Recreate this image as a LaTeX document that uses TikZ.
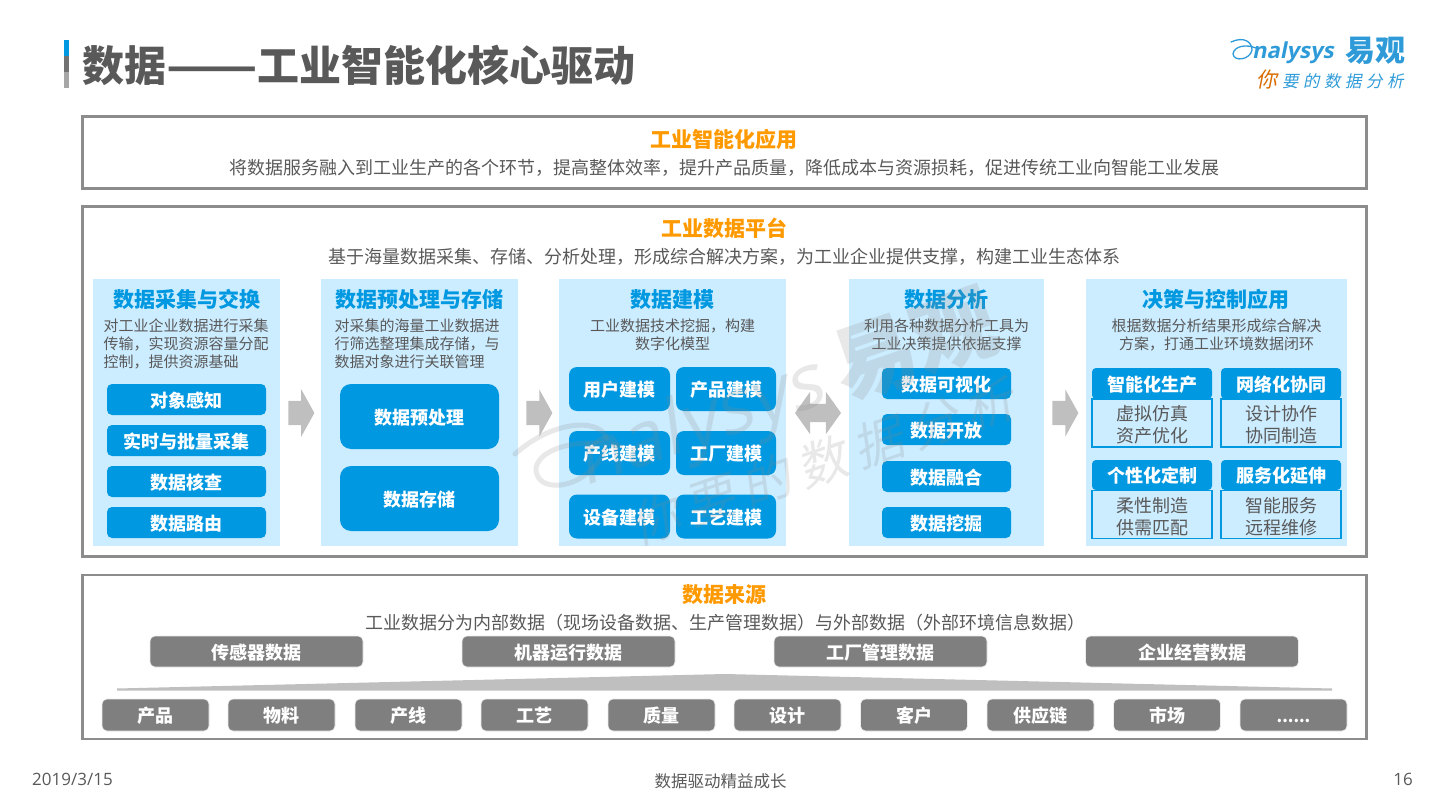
\documentclass[tikz,border=0pt]{standalone}
\usepackage{fontspec}
\usepackage{xcolor}
\usetikzlibrary{shapes.arrows}
\setmainfont{Open Sans}
\newfontfamily\cjk{Noto Sans CJK SC}
\newfontfamily\cjkslant[FakeSlant=0.2]{Noto Sans CJK SC}
\newfontfamily\logofont[FakeSlant=0.2]{Open Sans}
\definecolor{idblue}{HTML}{0098E0}
\definecolor{idpanel}{HTML}{CCECFF}
\definecolor{idorange}{HTML}{FF9900}
\definecolor{idtext}{HTML}{595959}
\definecolor{idframe}{HTML}{8C8C8C}
\definecolor{idchip}{HTML}{7F7F7F}
\definecolor{idarrow}{HTML}{BFBFBF}
\definecolor{idlogo}{HTML}{2E9BD8}
\tikzset{
  frame/.style={draw=idframe, line width=2.4pt, inner sep=0pt},
  headline/.style={text=idorange, font=\cjk\fontsize{21}{24}\selectfont\bfseries, inner sep=0pt},
  subline/.style={text=idtext, font=\cjk\fontsize{18}{22}\selectfont, inner sep=0pt},
  panel/.style={fill=idpanel, inner sep=0pt},
  paneltitle/.style={text=idblue, font=\cjk\fontsize{21}{24}\selectfont\bfseries, inner sep=0pt},
  paneltext/.style={text=idtext, font=\cjk\fontsize{15}{18}\selectfont, inner sep=0pt, align=left},
  btn/.style={fill=idblue, rounded corners=5pt, text=white, font=\cjk\fontsize{18}{22}\selectfont\bfseries, inner sep=0pt, text height=17pt, text depth=1.5pt},
  cardbody/.style={draw=idblue, line width=1.2pt, text=idtext, font=\cjk\fontsize{18}{22}\selectfont, inner sep=0pt, align=center, text height=41pt, text depth=2pt},
  cardhead/.style={fill=idblue, rounded corners=4pt, text=white, font=\cjk\fontsize{18}{22}\selectfont\bfseries, inner sep=0pt, text height=17pt, text depth=1.5pt},
  chip/.style={fill=idchip, draw=white!85!idchip, line width=0.6pt, rounded corners=5pt, text=white, font=\cjk\fontsize{18}{22}\selectfont\bfseries, inner sep=0pt, text height=17pt, text depth=1.5pt},
  flowarrow/.style={single arrow, fill=idarrow, inner sep=0pt, text height=24pt, text depth=0pt, minimum height=26pt, minimum width=47pt,
    single arrow head extend=11.5pt, single arrow tip angle=122},
  footer/.style={text=idtext, font=\cjk\fontsize{16.5}{20}\selectfont, inner sep=0pt},
  watermark/.style={text=black!45, opacity=0.2, rotate=19, inner sep=0pt}
}
\begin{document}
\begin{tikzpicture}[x=1pt,y=-1pt]
  \useasboundingbox (0,0) rectangle (1440,810);
  % title
  \fill[idblue] (64,40) rectangle (69,56);
  \fill[idchip!90!black] (64,56) rectangle (69,72);
  \fill[black!35] (64,72) rectangle (69,88);
  \node[inner sep=0pt, anchor=west, text=idtext, font=\cjk\fontsize{42}{46}\selectfont\bfseries] (title) at (82,65)
    {数据\scalebox{1.27}[1]{——}工业智能化核心驱动};
  % logo
  \draw[idlogo, line width=1.3pt, line cap=round] (1231,42) .. controls (1244,36) and (1252,42) .. (1252,50)
    .. controls (1250,60) and (1234,62) .. (1233,54) .. controls (1234,46) and (1246,44) .. (1256,48);
  \node[inner sep=0pt, anchor=west, text=idlogo, font=\logofont\fontsize{22}{24}\selectfont\bfseries] (logoname) at (1252,53) {nalysys};
  \node[inner sep=0pt, anchor=west, text=idlogo, font=\cjk\fontsize{30}{32}\selectfont\bfseries] (logocn) at (1345,51) {易观};
  \node[inner sep=0pt, anchor=west, text=orange!85!black, font=\cjkslant\fontsize{21}{22}\selectfont] (logoni) at (1256,80) {你};
  \node[inner sep=0pt, anchor=west, text=idlogo, font=\cjkslant\fontsize{16.5}{18}\selectfont] (logosub) at (1282,81) {要\hspace{4.5pt}的\hspace{4.5pt}数\hspace{4.5pt}据\hspace{4.5pt}分\hspace{4.5pt}析};

  % top layer
  \node[frame, minimum width=1284pt, minimum height=72pt] (appframe) at (724.5,152.5) {};
  \node[headline] (apptitle) at (724,139) {工业智能化应用};
  \node[subline] (appline) at (724.5,168) {将数据服务融入到工业生产的各个环节，提高整体效率，提升产品质量，降低成本与资源损耗，促进传统工业向智能工业发展};

  % platform layer
  \node[frame, minimum width=1284pt, minimum height=350pt] (platframe) at (724.5,381.5) {};
  \node[headline] (plattitle) at (724,228) {工业数据平台};
  \node[subline] (platline) at (724.5,257) {基于海量数据采集、存储、分析处理，形成综合解决方案，为工业企业提供支撑，构建工业生态体系};

  % panels
  \node[panel, minimum width=187pt, minimum height=267pt] (collect) at (186.5,412.5) {};
  \node[panel, minimum width=197pt, minimum height=267pt] (prepare) at (419.5,412.5) {};
  \node[panel, minimum width=227pt, minimum height=267pt] (model) at (672.5,412.5) {};
  \node[panel, minimum width=195pt, minimum height=267pt] (analyse) at (946.5,412.5) {};
  \node[panel, minimum width=261pt, minimum height=267pt] (decide) at (1216.5,412.5) {};

  % collect
  \node[paneltitle] (collecttitle) at (186.5,299.5) {数据采集与交换};
  \node[paneltext] (collecttext) at (186,344) {对工业企业数据进行采集\\传输，实现资源容量分配\\控制，提供资源基础\hphantom{进行}};
  \node[btn, minimum width=159pt, minimum height=31pt] (sense) at (186.5,399.5) {对象感知};
  \node[btn, minimum width=159pt, minimum height=31pt] (batch) at (186.5,440.5) {实时与批量采集};
  \node[btn, minimum width=159pt, minimum height=31pt] (check) at (186.5,481.5) {数据核查};
  \node[btn, minimum width=159pt, minimum height=31pt] (route) at (186.5,522.5) {数据路由};

  % prepare
  \node[paneltitle] (preparetitle) at (419.5,299.5) {数据预处理与存储};
  \node[paneltext] (preparetext) at (417,344) {对采集的海量工业数据进\\行筛选整理集成存储，与\\数据对象进行关联管理\hphantom{与}};
  \node[btn, rounded corners=11pt, minimum width=159pt, minimum height=65pt] (clean) at (419.5,416.5) {数据预处理};
  \node[btn, rounded corners=11pt, minimum width=159pt, minimum height=65pt] (store) at (419.5,498.5) {数据存储};

  % model
  \node[paneltitle] (modeltitle) at (672.5,299.5) {数据建模};
  \node[paneltext, align=center] (modeltext) at (672.5,335) {工业数据技术挖掘，构建\\数字化模型};
  \node[btn, rounded corners=8pt, minimum width=101pt, minimum height=44pt] (musers) at (619.5,389) {用户建模};
  \node[btn, rounded corners=8pt, minimum width=100pt, minimum height=44pt] (mprod) at (726,389) {产品建模};
  \node[btn, rounded corners=8pt, minimum width=101pt, minimum height=44pt] (mline) at (619.5,453) {产线建模};
  \node[btn, rounded corners=8pt, minimum width=100pt, minimum height=44pt] (mfact) at (726,453) {工厂建模};
  \node[btn, rounded corners=8pt, minimum width=101pt, minimum height=44pt] (mdev) at (619.5,516.5) {设备建模};
  \node[btn, rounded corners=8pt, minimum width=100pt, minimum height=44pt] (mproc) at (726,516.5) {工艺建模};

  % analyse
  \node[paneltitle] (analysetitle) at (946.5,299.5) {数据分析};
  \node[paneltext, align=center] (analysetext) at (946.5,335) {利用各种数据分析工具为\\工业决策提供依据支撑};
  \node[btn, minimum width=129pt, minimum height=31pt] (visual) at (946.5,383.5) {数据可视化};
  \node[btn, minimum width=129pt, minimum height=31pt] (opendata) at (946.5,429.5) {数据开放};
  \node[btn, minimum width=129pt, minimum height=31pt] (merge) at (946.5,476.5) {数据融合};
  \node[btn, minimum width=129pt, minimum height=31pt] (mine) at (946.5,522.5) {数据挖掘};

  % decide
  \node[paneltitle] (decidetitle) at (1216,299.5) {决策与控制应用};
  \node[paneltext, align=center] (decidetext) at (1216.5,335) {根据数据分析结果形成综合解决\\方案，打通工业环境数据闭环};
  \node[cardbody, minimum width=120pt, minimum height=48pt] (smartbody) at (1152,423) {虚拟仿真\\资产优化};
  \node[cardhead, minimum width=120pt, minimum height=31pt] (smarthead) at (1152,383.5) {智能化生产};
  \node[cardbody, minimum width=120pt, minimum height=48pt] (netbody) at (1281,423) {设计协作\\协同制造};
  \node[cardhead, minimum width=120pt, minimum height=31pt] (nethead) at (1281,383.5) {网络化协同};
  \node[cardbody, minimum width=120pt, minimum height=48pt] (custbody) at (1152,514.5) {柔性制造\\供需匹配};
  \node[cardhead, minimum width=120pt, minimum height=30pt] (custhead) at (1152,475) {个性化定制};
  \node[cardbody, minimum width=120pt, minimum height=48pt] (servbody) at (1281,514.5) {智能服务\\远程维修};
  \node[cardhead, minimum width=120pt, minimum height=30pt] (servhead) at (1281,475) {服务化延伸};

  % block arrows between the panels
  \node[flowarrow] (flowa) at (298,413) {};
  \node[flowarrow] (flowb) at (536,413) {};
  \node[double arrow, fill=idarrow, inner sep=0pt, text height=18pt, text depth=0pt, minimum height=46pt, minimum width=42pt,
    double arrow head extend=12pt, double arrow tip angle=109] (flowc) at (818,413) {};
  \node[flowarrow] (flowd) at (1062,413) {};

  % source layer
  \node[frame, minimum width=1284pt, minimum height=164pt] (srcframe) at (724.5,657) {};
  \node[headline] (srctitle) at (724.5,594.5) {数据来源};
  \node[subline] (srcline) at (725,623) {工业数据分为内部数据（现场设备数据、生产管理数据）与外部数据（外部环境信息数据）};
  \node[chip, minimum width=213pt, minimum height=31pt] (sensor) at (256.5,651.5) {传感器数据};
  \node[chip, minimum width=213pt, minimum height=31pt] (machine) at (568.5,651.5) {机器运行数据};
  \node[chip, minimum width=213pt, minimum height=31pt] (plant) at (880.5,651.5) {工厂管理数据};
  \node[chip, minimum width=213pt, minimum height=31pt] (business) at (1192,651.5) {企业经营数据};
  \fill[idarrow] (117,688.5) -- (725,674) -- (1332,688.5) -- (1332,690.5) -- (117,690.5) -- cycle;
  \node[chip, minimum width=107pt, minimum height=32pt] (product) at (155.5,715) {产品};
  \node[chip, minimum width=107pt, minimum height=32pt] (material) at (281.5,715) {物料};
  \node[chip, minimum width=107pt, minimum height=32pt] (prodline) at (408.5,715) {产线};
  \node[chip, minimum width=107pt, minimum height=32pt] (craft) at (534.5,715) {工艺};
  \node[chip, minimum width=107pt, minimum height=32pt] (quality) at (661.5,715) {质量};
  \node[chip, minimum width=107pt, minimum height=32pt] (design) at (787.5,715) {设计};
  \node[chip, minimum width=107pt, minimum height=32pt] (client) at (914,715) {客户};
  \node[chip, minimum width=107pt, minimum height=32pt] (supply) at (1040.5,715) {供应链};
  \node[chip, minimum width=107pt, minimum height=32pt] (market) at (1167,715) {市场};
  \node[chip, minimum width=107pt, minimum height=32pt, font=\cjk\fontsize{16}{20}\selectfont\bfseries] (others) at (1293.5,715) {......};

  % watermark
  \draw[black!45, opacity=0.2, line width=5pt, line cap=round] (515,454) .. controls (560,414) and (612,420) .. (606,445)
    .. controls (595,488) and (535,498) .. (536,468) .. controls (540,446) and (585,438) .. (620,446);
  \node[watermark, font=\logofont\fontsize{76}{80}\selectfont] (marklatin) at (700,426) {nalysys};
  \node[watermark, font=\cjk\fontsize{84}{90}\selectfont\bfseries] (markcn) at (915,345) {易观};
  \node[watermark, font=\cjkslant\fontsize{50}{54}\selectfont] (marksub) at (822,462) {你\hspace{9pt}要\hspace{9pt}的\hspace{9pt}数\hspace{9pt}据\hspace{9pt}分\hspace{9pt}析};

  % footer
  \node[footer, anchor=west, font=\fontsize{17}{20}\selectfont] (date) at (32,779) {2019/3/15};
  \node[footer] (deck) at (720.5,781) {数据驱动精益成长};
  \node[footer, anchor=east, font=\fontsize{17}{20}\selectfont] (page) at (1413,779) {16};
\end{tikzpicture}
\end{document}
